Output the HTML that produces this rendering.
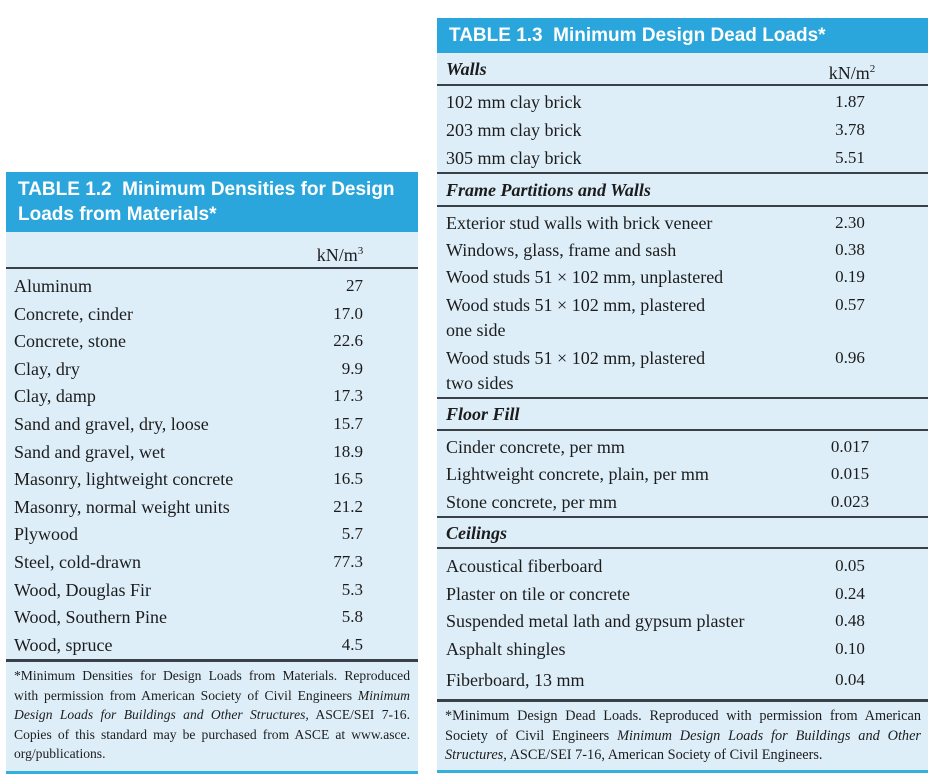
<!DOCTYPE html>
<html><head><meta charset="utf-8">
<style>
body{margin:0;width:936px;height:774px;background:#fff;position:relative;overflow:hidden;font-family:"Liberation Serif",serif;color:#1c1c1c}
.t{position:absolute;background:#ddeef9}
.bar{position:absolute;background:#2ba6dc;color:#fff;font-family:"Liberation Sans",sans-serif;font-weight:bold;font-size:19px;line-height:25px}
.ln{position:absolute;height:2px;background:#3a4048}
.bl{position:absolute;height:3px;background:#34b0dc}
.r{position:absolute;font-size:18px;line-height:20px;white-space:nowrap}
.v{position:absolute;font-size:17px;line-height:20px;text-align:right;width:60px;white-space:nowrap}
.vc{position:absolute;font-size:17px;line-height:20px;text-align:center;width:80px;white-space:nowrap}
.h{font-weight:bold;font-style:italic}
.f{position:absolute;font-size:13.6px;line-height:19.5px;text-align:justify;text-align-last:left}
</style></head><body>
<!-- Left table -->
<div class="t" style="left:6px;top:172px;width:412px;height:600px"></div>
<div class="bar" style="left:6px;top:172px;height:60px;padding:5px 0 0 12px;box-sizing:border-box;width:412px">TABLE 1.2&nbsp;&nbsp;Minimum Densities for Design Loads from Materials*</div>
<div class="vc" style="left:300px;top:241px;font-size:18px">kN/m<sup style="font-size:11px">3</sup></div>
<div class="ln" style="left:6px;top:267px;width:412px"></div>
<div id="leftRows"></div>
<div class="ln" style="left:6px;top:659px;width:412px;height:3px"></div>
<div class="f" style="left:14px;top:666px;width:396px">*Minimum Densities for Design Loads from Materials. Reproduced with permission from American Society of Civil Engineers <i>Minimum Design Loads for Buildings and Other Structures,</i> ASCE/SEI 7-16. Copies of this standard may be purchased from ASCE at www.asce. org/publications.</div>
<div class="bl" style="left:6px;top:771px;width:412px"></div>

<!-- Right table -->
<div class="t" style="left:437px;top:18px;width:491px;height:754px"></div>
<div class="bar" style="left:437px;top:18px;width:491px;height:35px;padding:5px 0 0 12px;box-sizing:border-box">TABLE 1.3&nbsp;&nbsp;Minimum Design Dead Loads*</div>
<div id="rightRows"></div>
<div class="f" style="left:445px;top:707px;width:476px;font-size:14.3px">*Minimum Design Dead Loads. Reproduced with permission from American Society of Civil Engineers <i>Minimum Design Loads for Buildings and Other Structures</i>, ASCE/SEI 7-16, American Society of Civil Engineers.</div>
<div class="bl" style="left:437px;top:770px;width:491px"></div>

<script>
const leftNames=["Aluminum","Concrete, cinder","Concrete, stone","Clay, dry","Clay, damp","Sand and gravel, dry, loose","Sand and gravel, wet","Masonry, lightweight concrete","Masonry, normal weight units","Plywood","Steel, cold-drawn","Wood, Douglas Fir","Wood, Southern Pine","Wood, spruce"];
const leftVals=["27","17.0","22.6","9.9","17.3","15.7","18.9","16.5","21.2","5.7","77.3","5.3","5.8","4.5"];
const L=document.getElementById('leftRows');
leftNames.forEach((n,i)=>{
  const y=276+i*27.6;
  const a=document.createElement('div');a.className='r';a.style.left='14px';a.style.top=y+'px';a.textContent=n;
  
  
  L.appendChild(a);
  const b=document.createElement('div');b.className='v';b.style.left='303px';b.style.top=y+'px';b.textContent=leftVals[i];
  
  
  L.appendChild(b);
});
const rightRows=[
 ["h","Walls","",69],
 ["line","","",85],
 ["r","102 mm clay brick","1.87",102],
 ["r","203 mm clay brick","3.78",130],
 ["r","305 mm clay brick","5.51",158],
 ["line","","",173],
 ["h","Frame Partitions and Walls","",190],
 ["line","","",206],
 ["r","Exterior stud walls with brick veneer","2.30",223],
 ["r","Windows, glass, frame and sash","0.38",250],
 ["r","Wood studs 51 \u00d7 102 mm, unplastered","0.19",277],
 ["r","Wood studs 51 \u00d7 102 mm, plastered","0.57",305],
 ["r","one side","",330],
 ["r","Wood studs 51 \u00d7 102 mm, plastered","0.96",358],
 ["r","two sides","",383],
 ["line","","",398],
 ["h","Floor Fill","",414],
 ["line","","",430],
 ["r","Cinder concrete, per mm","0.017",447],
 ["r","Lightweight concrete, plain, per mm","0.015",474],
 ["r","Stone concrete, per mm","0.023",502],
 ["line","","",517],
 ["h","Ceilings","",533],
 ["line","","",548],
 ["r","Acoustical fiberboard","0.05",566],
 ["r","Plaster on tile or concrete","0.24",594],
 ["r","Suspended metal lath and gypsum plaster","0.48",621],
 ["r","Asphalt shingles","0.10",649],
 ["r","Fiberboard, 13 mm","0.04",680],
 ["line","","",700]
];
const R=document.getElementById('rightRows');
rightRows.forEach(rw=>{
  const [t,txt,val,y]=rw;
  if(t==="line"){
    const l=document.createElement('div');l.className='ln';l.style.left='437px';l.style.width='491px';l.style.top=(y-1)+'px';
    if(y===700) l.style.height='3px';
    
    
    R.appendChild(l);return;
  }
  const a=document.createElement('div');a.className='r'+(t==="h"?' h':'');a.style.left='446px';a.style.top=(y-10)+'px';a.textContent=txt;
  
  
  R.appendChild(a);
  if(val){
    const b=document.createElement('div');b.className='vc';b.style.left='810px';b.style.top=(y-10)+'px';b.textContent=val;
    
    
    R.appendChild(b);
  }
});
const u=document.createElement('div');u.className='vc';u.style.left='812px';u.style.top='59px';u.style.fontSize='18px';u.innerHTML='kN/m<sup style="font-size:11px">2</sup>';


R.appendChild(u);
</script>
</body></html>
